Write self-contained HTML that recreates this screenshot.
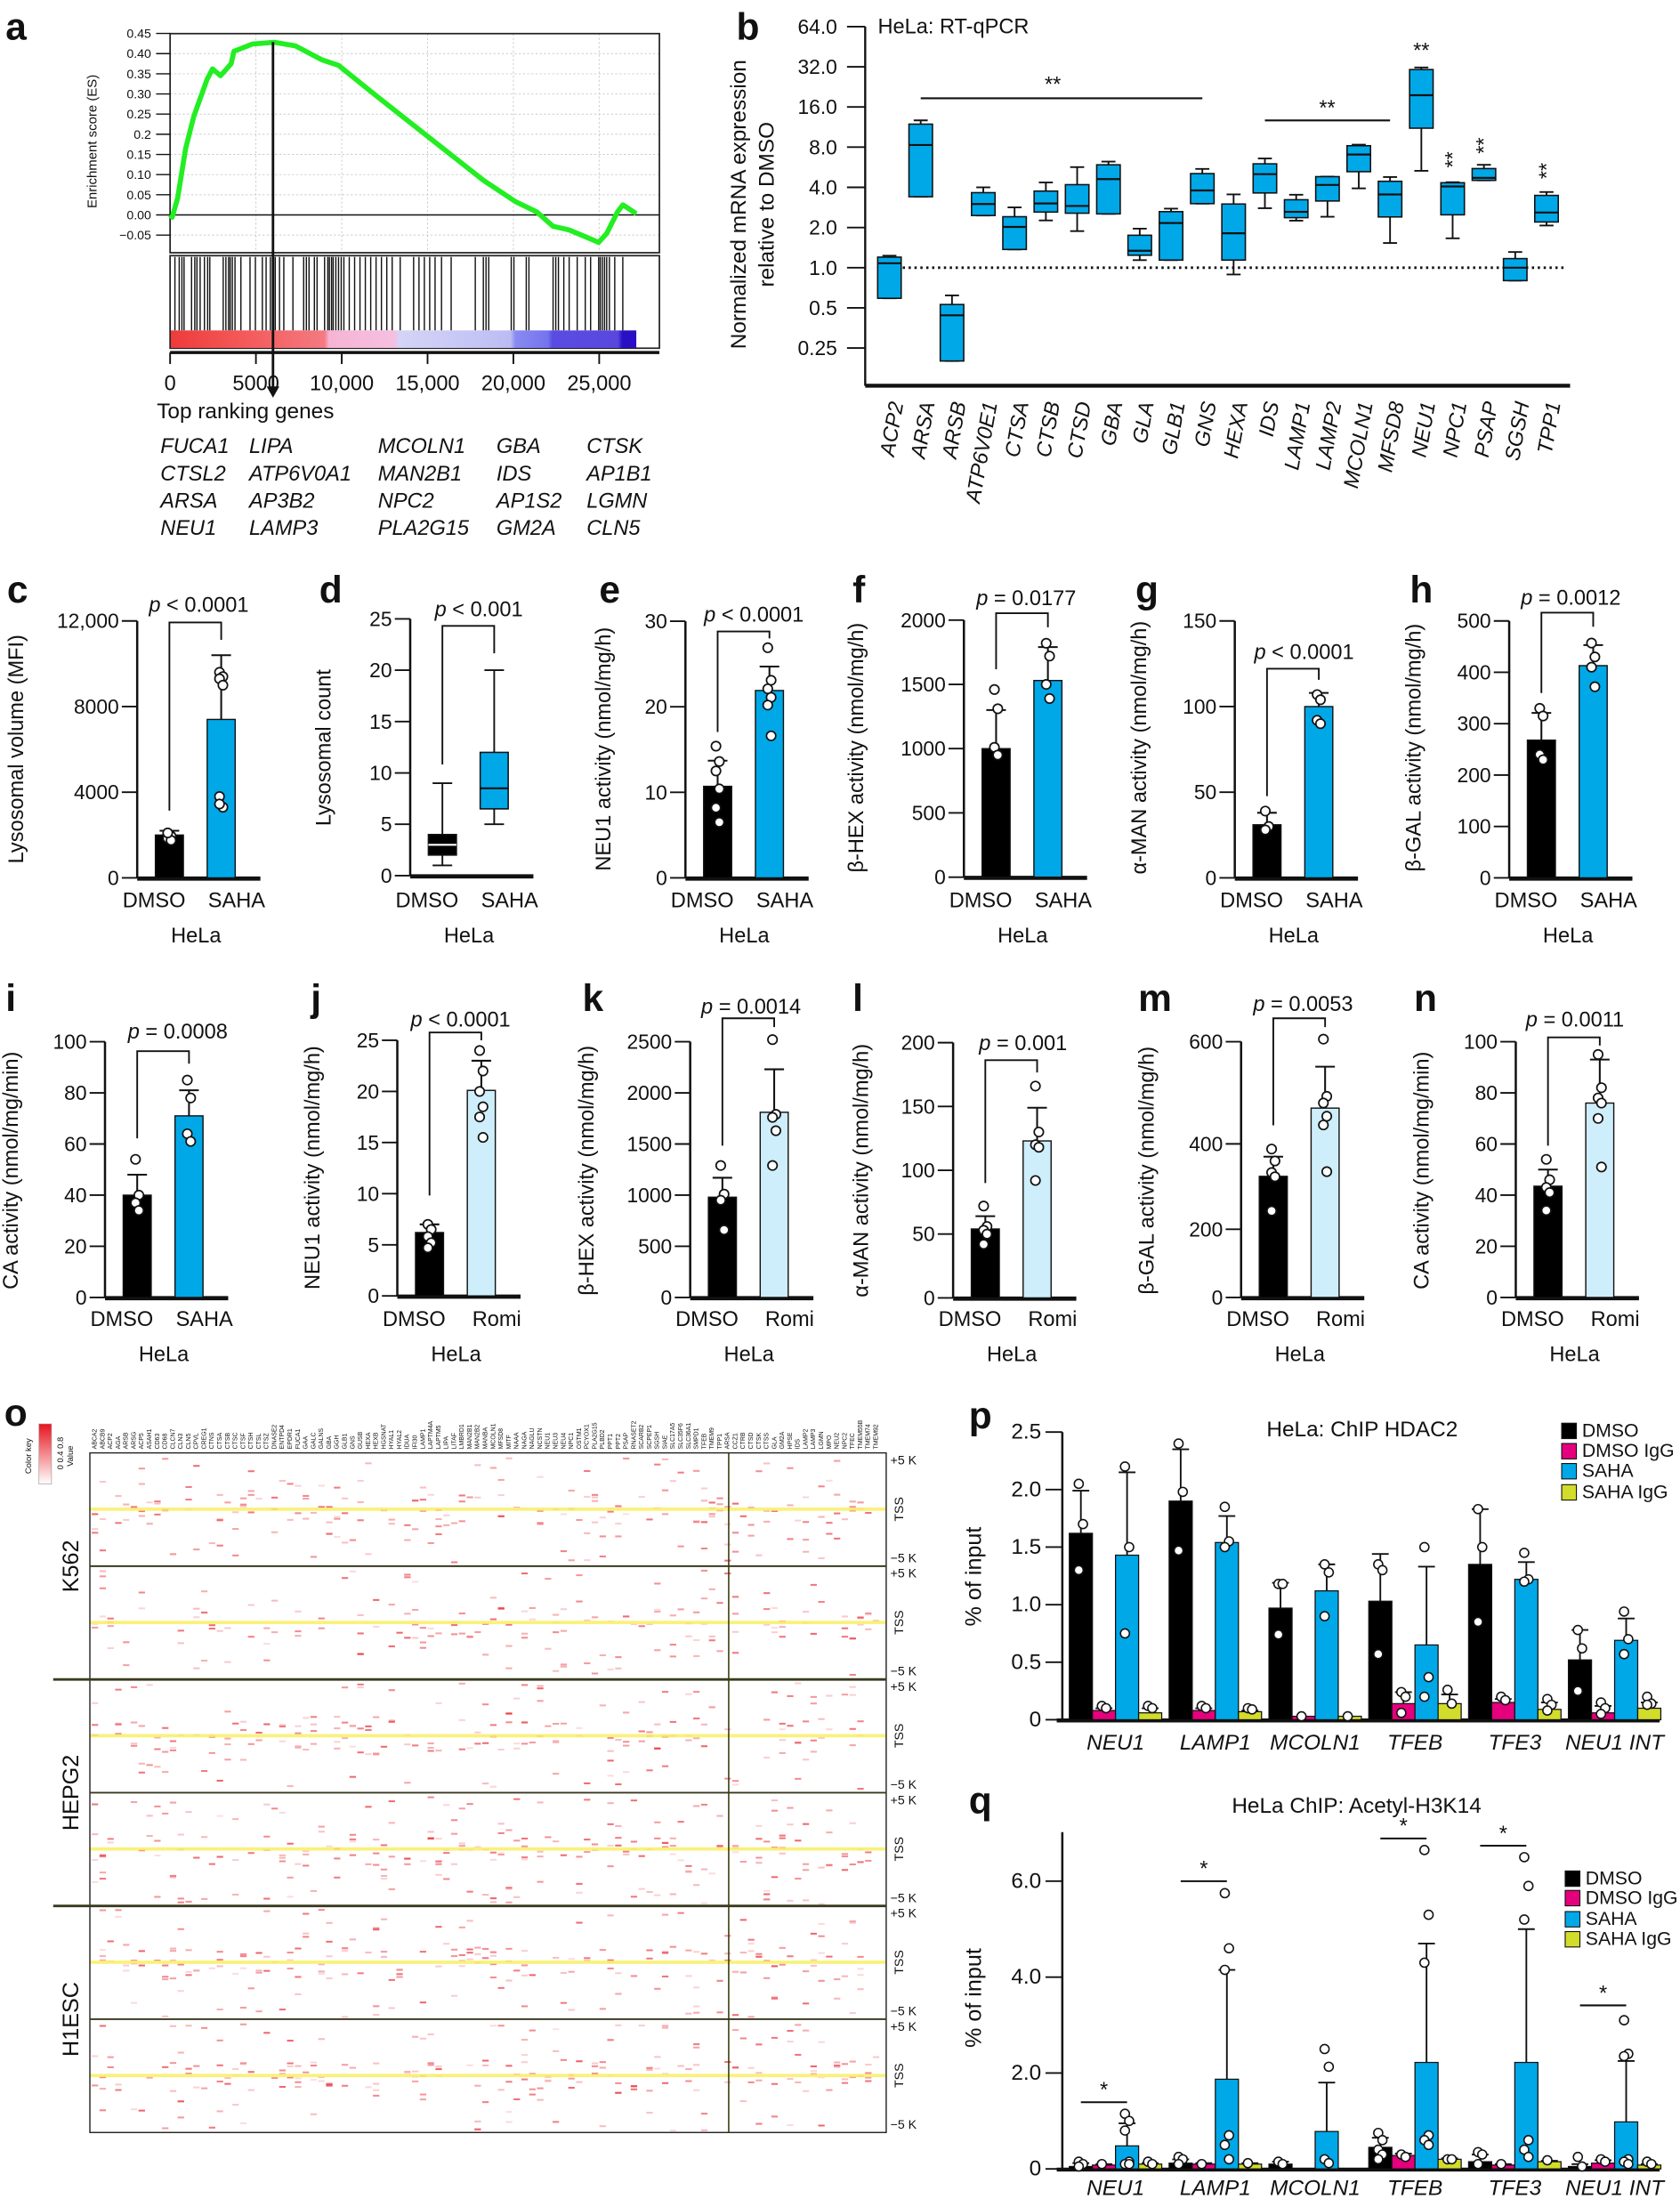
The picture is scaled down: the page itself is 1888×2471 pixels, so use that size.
<!DOCTYPE html>
<html><head><meta charset="utf-8">
<style>
html,body{margin:0;padding:0;background:#fff}
svg{display:block}
text{font-family:"Liberation Sans",Arial,sans-serif;fill:#111}
</style></head>
<body>
<svg id="fig" xmlns="http://www.w3.org/2000/svg" width="1888" height="2471" viewBox="0 0 1200 1570.6" preserveAspectRatio="none">
<defs>
<linearGradient id="rankbar" x1="0" x2="1" y1="0" y2="0">
<stop offset="0" stop-color="#ee3b3b"/><stop offset="0.15" stop-color="#f45858"/><stop offset="0.33" stop-color="#f47a82"/>
<stop offset="0.34" stop-color="#f6b4d4"/><stop offset="0.48" stop-color="#f6bfe0"/><stop offset="0.49" stop-color="#d4d4f6"/>
<stop offset="0.62" stop-color="#c8c8f6"/><stop offset="0.73" stop-color="#bcbcf4"/><stop offset="0.74" stop-color="#8a8af2"/>
<stop offset="0.81" stop-color="#7474ee"/><stop offset="0.82" stop-color="#5a4ce2"/><stop offset="0.96" stop-color="#5a48de"/>
<stop offset="0.97" stop-color="#2a10c4"/><stop offset="1" stop-color="#2a10c4"/>
</linearGradient>
<linearGradient id="ckey" x1="0" x2="0" y1="1" y2="0">
<stop offset="0" stop-color="#ffffff"/><stop offset="1" stop-color="#e8141e"/>
</linearGradient>
</defs>
</svg>
<script>
// ===================== DATA =====================
const esRanks=[0,125,437,906,1375,2156,2470,2940,3560,3720,4810,6060,7310,8875,9810,12000,15125,18250,20125,21375,22310,23250,24190,24970,25440,26060,26375,27160];
const esValues=[0,-0.006,0.042,0.165,0.244,0.336,0.362,0.345,0.375,0.406,0.424,0.428,0.419,0.384,0.371,0.296,0.191,0.086,0.033,0.007,-0.028,-0.037,-0.054,-0.068,-0.046,0.007,0.025,0.003];
const hitRanks=[281,531,688,813,1250,1438,1563,1750,2000,2188,2313,3094,3250,3406,3500,3625,3781,4125,4656,4969,5375,5594,5844,6125,6375,6625,7156,7781,7938,8094,8406,8563,9000,9188,9281,9406,9500,9656,9813,9969,10125,10438,10750,11063,11375,11688,12000,12313,12625,12938,13406,14188,14500,14813,15125,15438,15813,16375,17781,18250,18406,18563,19875,20031,20750,20906,22313,22469,22625,22938,23250,23719,24188,24500,24969,25063,25188,25313,25438,25594,25906,26375];
const esTicks=[-0.05,0,0.05,0.1,0.15,0.2,0.25,0.3,0.35,0.4,0.45];
const esTickLabels=['\u22120.05','0.00','0.05','0.10','0.15','0.2','0.25','0.30','0.35','0.40','0.45'];
const rankTicks=[0,5000,10000,15000,20000,25000];
const rankTickLabels=['0','5000','10,000','15,000','20,000','25,000'];
const topGenes=[['FUCA1','CTSL2','ARSA','NEU1'],['LIPA','ATP6V0A1','AP3B2','LAMP3'],['MCOLN1','MAN2B1','NPC2','PLA2G15'],['GBA','IDS','AP1S2','GM2A'],['CTSK','AP1B1','LGMN','CLN5']];

const bGenes=['ACP2','ARSA','ARSB','ATP6V0E1','CTSA','CTSB','CTSD','GBA','GLA','GLB1','GNS','HEXA','IDS','LAMP1','LAMP2','MCOLN1','MFSD8','NEU1','NPC1','PSAP','SGSH','TPP1'];
const bHigh=[1.23,12.7,0.62,4.0,2.83,4.35,5.67,6.24,1.96,2.77,5.5,3.54,6.58,3.52,4.81,8.35,4.78,31.6,4.37,5.9,1.31,3.69];
const bQ3=[1.20,11.9,0.53,3.65,2.41,3.75,4.19,5.9,1.75,2.63,5.07,3.0,6.0,3.23,4.81,8.2,4.44,30.5,4.33,5.53,1.17,3.48];
const bMed=[1.08,8.3,0.44,3.0,2.02,3.03,2.9,4.61,1.34,2.16,3.79,1.81,5.02,2.62,4.17,7.05,3.54,19.6,4.06,4.71,1.0,2.59];
const bQ1=[0.59,3.4,0.20,2.46,1.37,2.61,2.56,2.53,1.24,1.14,3.02,1.14,3.63,2.37,3.16,5.24,2.4,11.1,2.49,4.51,0.80,2.2];
const bLow=[0.59,3.4,0.20,2.46,1.37,2.26,1.88,2.53,1.14,1.14,3.02,0.89,2.79,2.25,2.41,3.93,1.53,5.32,1.66,4.51,0.80,2.07];
const bTicks=[0.25,0.5,1,2,4,8,16,32,64];
const bTickLabels=['0.25','0.5','1.0','2.0','4.0','8.0','16.0','32.0','64.0'];

const cMeans=[2000,7400], cErr=[2200,10400], cPts=[[2050,1950,1850,1750,2100],[9600,9400,9300,9000,3800,3300,3450]];
const dBox=[[1,2,3,4,9],[5,6.5,8.5,12,20]];
const eMeans=[10.7,21.9], eErr=[13.7,24.7], ePts=[[15.4,13.6,12.5,10.4,8.2,6.5],[26.9,23.1,22.1,21.1,20.2,16.6]];
const fMeans=[1000,1530], fErr=[1300,1790], fPts=[[1460,1310,1010,950],[1820,1720,1500,1390]];
const gMeans=[31,100], gErr=[38,108], gPts=[[39,30,28],[107,104,92,90]];
const hMeans=[268,413], hErr=[321,453], hPts=[[330,315,240,230],[457,430,410,372]];
const iMeans=[40,71], iErr=[48,81], iPts=[[54,40,37,34],[85,78,64,61]];
const jMeans=[6.2,20.1], jErr=[7,23], jPts=[[7,6.5,5.8,5.2,4.7],[24,22,20,18.5,17.5,15.5]];
const kMeans=[980,1810], kErr=[1170,2230], kPts=[[1290,1010,950,660],[2520,1790,1760,1630,1290]];
const lMeans=[54,123], lErr=[64,149], lPts=[[72,56,53,50,42],[166,130,120,118,92]];
const mMeans=[324,470], mErr=[370,551], mPts=[[388,360,333,323,243],[605,493,480,454,437,335]];
const nMeans=[43.5,76], nErr=[50,93], nPts=[[54,46,43,41,34],[95,82,78,76,70,51]];

const chipGenes=['NEU1','LAMP1','MCOLN1','TFEB','TFE3','NEU1 INT'];
const seriesNames=['DMSO','DMSO IgG','SAHA','SAHA IgG'];
const pDMSO=[1.62,1.9,0.97,1.03,1.35,0.52], pDMSOErr=[1.99,2.35,1.19,1.44,1.83,0.78];
const pDMSOIgG=[0.08,0.08,0.03,0.14,0.15,0.06], pDMSOIgGErr=[0.10,0.10,0.03,0.24,0.18,0.12];
const pSAHA=[1.43,1.54,1.12,0.65,1.22,0.69], pSAHAErr=[2.15,1.77,1.35,1.33,1.37,0.88];
const pSAHAIgG=[0.06,0.07,0.03,0.14,0.09,0.10], pSAHAIgGErr=[0.10,0.08,0.03,0.22,0.15,0.15];
const pDMSOPts=[[2.05,1.7,1.3],[2.4,1.98,1.47],[1.18,1.18,0.74],[1.35,1.3,0.57],[1.83,1.5,0.85],[0.78,0.62,0.25]];
const pDMSOIgGPts=[[0.12,0.1],[0.12,0.1],[0.03],[0.24,0.2,0.06],[0.2,0.17],[0.15,0.1,0.05]];
const pSAHAPts=[[2.2,1.5,0.75],[1.85,1.55,1.5],[1.35,1.28,0.9],[1.5,0.37,0.2],[1.45,1.22,1.2],[0.94,0.7,0.57]];
const pSAHAIgGPts=[[0.12,0.1],[0.1,0.09],[0.03],[0.26,0.14],[0.18,0.13,0.08],[0.2,0.14,0.13]];
const pTicks=[0,0.5,1,1.5,2,2.5], pTickLabels=['0','0.5','1.0','1.5','2.0','2.5'];

const qDMSO=[0.05,0.12,0.1,0.45,0.15,0.05], qDMSOErr=[0.12,0.2,0.15,0.65,0.3,0.1];
const qDMSOIgG=[0.08,0.1,0,0.28,0.08,0.12], qDMSOIgGErr=[0.1,0.12,0,0.32,0.1,0.18];
const qSAHA=[0.48,1.87,0.78,2.22,2.22,0.98], qSAHAErr=[0.95,4.15,1.8,4.7,5.0,2.25];
const qSAHAIgG=[0.1,0.1,0,0.2,0.15,0.08], qSAHAIgGErr=[0.12,0.12,0,0.22,0.17,0.1];
const qDMSOPts=[[0.15,0.1,0.05],[0.25,0.2,0.1],[0.15,0.1],[0.75,0.6,0.4,0.3,0.2],[0.35,0.3,0.1],[0.25,0.05]];
const qDMSOIgGPts=[[0.1],[0.1],[],[0.3,0.25],[0.1],[0.2,0.15]];
const qSAHAPts=[[1.15,1.0,0.8,0.15,0.1,0.1],[5.75,4.6,4.15,0.7,0.5,0.2],[2.5,2.13,0.2,0.12],[6.65,5.3,4.3,0.7,0.6,0.5],[6.5,5.9,5.2,0.6,0.4,0.25],[3.1,2.4,2.35,0.2,0.15,0.1]];
const qSAHAIgGPts=[[0.15,0.1],[0.12],[],[0.2,0.2],[0.18],[0.15,0.1]];
const qSig=[1.39,6.0,null,6.89,6.74,3.41];
const qTicks=[0,2,4,6], qTickLabels=['0','2.0','4.0','6.0'];

const oGenes=['ABCA2','ABCB9','ACP2','AGA','ARSB','ARSG','ACP5','ASAH1','CD63','CD68','CLCN7','CLN3','CLN5','CPVL','CREG1','CTNS','CTSA','CTSB','CTSC','CTSF','CTSH','CTSL','CTSZ','DNASE2','ENTPD4','EPDR1','FUCA1','GAA','GALC','GALNS','GBA','GGH','GLB1','GNS','GUSB','HEXA','HEXB','HGSNAT','HYAL1','HYAL2','IDUA','IFI30','LAMP1','LAPTM4A','LAPTM5','LIPA','LITAF','LMBRD1','MAN2B1','MAN2B2','MANBA','MCOLN1','MFSD8','MITF','NAAA','NAGA','NAGLU','NCSTN','NEU1','NEU3','NEU4','NPC1','OSTM1','PCYOX1','PLA2G15','PLBD2','PPT1','PPT2','PSAP','RNASET2','SCARB2','SCPEP1','SGSH','SIAE','SLC17A5','SLC35F6','SLC36A1','SMPD1','TFEB','TMEM9','TPP1','ARSA','CCZ1','CTRB','CTSD','CTSK','CTSS','GLA','GM2A','HPSE','IDS','LAMP2','LAMP3','LGMN','MPO','NEU2','NPC2','TFEC','TMEM55B','TMEM74','TMEM92'];
const oCellLines=['K562','HEPG2','H1ESC'];

// ===================== HELPERS =====================
const NS='http://www.w3.org/2000/svg';
const svg=document.getElementById('fig');
function mk(tag,attrs,parent,name,inter){
  const e=document.createElementNS(NS,tag);
  for(const k in attrs) e.setAttribute(k,attrs[k]);
  
  
  (parent||svg).appendChild(e);
  return e;
}
function txt(s,x,y,attrs,parent,name){
  const t=mk('text',Object.assign({x:x,y:y,'dominant-baseline':'central'},attrs||{}),parent,name,false);
  t.textContent=s; return t;
}
function line(x1,y1,x2,y2,attrs,parent,name){
  return mk('line',Object.assign({x1:x1,y1:y1,x2:x2,y2:y2,stroke:'#111','stroke-width':1.2},attrs||{}),parent,name,false);
}
function ptext(s,x,y,parent,name){
  const t=mk('text',{x:x,y:y,'text-anchor':'middle','dominant-baseline':'central','font-size':15},parent,name,false);
  const a=document.createElementNS(NS,'tspan'); a.setAttribute('font-style','italic'); a.textContent='p';
  const b=document.createElementNS(NS,'tspan'); b.textContent=s;
  t.appendChild(a); t.appendChild(b); return t;
}
function rotText(s,x,y,size,parent,name,attrs){
  return txt(s,x,y,Object.assign({'text-anchor':'middle','font-size':size,transform:'rotate(-90 '+x+' '+y+')'},attrs||{}),parent,name);
}
function letter(s,x,y,size){
  return txt(s,x,y,{'font-size':size||27,'font-weight':'bold'},svg,'panel-label-'+s);
}

// ===================== PANEL A =====================
(function(){
  const g=mk('g',{},svg,'gsea-panel',false);
  letter('a',4,19);
  const X0=121.5, XW=61.3/5000, Y0=153.5, YS=14.4/0.05;
  const sx=r=>X0+r*XW, sy=v=>Y0-v*YS;
  const L=121.5,R=471,T=24,B=180.5;
  const grid=mk('g',{},g,'es-grid',false);
  esTicks.forEach(v=>{ if(v!==0) line(L,sy(v),R,sy(v),{stroke:'#ccc','stroke-width':0.6,'stroke-dasharray':'1.5,1.5'},grid,'es-gridline-h'); });
  rankTicks.forEach(r=>{ if(r>0) line(sx(r),T,sx(r),B,{stroke:'#ccc','stroke-width':0.6,'stroke-dasharray':'1.5,1.5'},grid,'es-gridline-v'); });
  line(L,sy(0),R,sy(0),{'stroke-width':1},g,'es-zero-line');
  mk('rect',{x:L,y:T,width:R-L,height:B-T,fill:'none',stroke:'#222','stroke-width':1.1},g,'es-plot-frame',false);
  esTicks.forEach((v,i)=>{
    line(111.5,sy(v),L,sy(v),{'stroke-width':0.9},g,'es-y-tick');
    txt(esTickLabels[i],108,sy(v),{'text-anchor':'end','font-size':9},g,'es-y-tick-label');
  });
  rotText('Enrichment score (ES)',66,101,9.5,g,'es-y-axis-title');
  const d=esRanks.map((r,i)=>(i?'L':'M')+sx(r).toFixed(1)+','+sy(esValues[i]).toFixed(1)).join(' ');
  mk('path',{d:d,fill:'none',stroke:'#22ee22','stroke-width':3.6,'stroke-linejoin':'round'},g,'es-curve',false);
  mk('rect',{x:L,y:182.6,width:R-L,height:66.1,fill:'#fff',stroke:'#222','stroke-width':1.1},g,'hits-frame',false);
  const hits=mk('g',{},g,'gene-hits',false);
  hitRanks.forEach(r=>line(sx(r),183.5,sx(r),236,{'stroke-width':0.9},hits,'gene-hit'));
  mk('rect',{x:L+0.5,y:236,width:454-L,height:12.5,fill:'url(#rankbar)'},g,'ranked-list-metric-bar',false);
  line(L,251.8,R,251.8,{'stroke-width':2.2},g,'rank-x-axis');
  rankTicks.forEach((r,i)=>{
    line(sx(r),251.8,sx(r),260,{'stroke-width':1.2},g,'rank-x-tick');
    txt(rankTickLabels[i],sx(r),273.5,{'text-anchor':'middle','font-size':15},g,'rank-x-tick-label');
  });
  line(195,30,195,281,{'stroke-width':1.8},g,'leading-edge-arrow');
  mk('path',{d:'M190.5,276 L195,284 L199.5,276 Z',fill:'#111'},g,'leading-edge-arrowhead',false);
  txt('Top ranking genes',112,294,{'font-size':15.5},g,'top-ranking-genes-title');
  const cols=[114.6,178,270,354.6,419], rows=[318.5,338,357.5,377];
  topGenes.forEach((col,ci)=>col.forEach((gname,ri)=>txt(gname,cols[ci],rows[ri],{'font-size':15,'font-style':'italic'},g,'top-gene-label')));
})();

// ===================== PANEL B =====================
(function(){
  const g=mk('g',{},svg,'rtqpcr-panel',false);
  letter('b',526,19);
  const AX=618, ybase=248.6, per=28.7;
  const sy=v=>ybase-(Math.log2(v)+2)*per;
  const cx=i=>635.3+i*22.35;
  line(AX,sy(64),AX,275.5,{'stroke-width':1.5},g,'b-y-axis');
  line(AX,275.5,1121.5,275.5,{'stroke-width':2.8},g,'b-x-axis');
  bTicks.forEach((v,i)=>{
    line(605,sy(v),AX,sy(v),{'stroke-width':1.2},g,'b-y-tick');
    txt(bTickLabels[i],598,sy(v),{'text-anchor':'end','font-size':14.5},g,'b-y-tick-label');
  });
  rotText('Normalized mRNA expression',528,146,15.5,g,'b-y-axis-title');
  rotText('relative to DMSO',548,146,15.5,g,'b-y-axis-title-line2');
  txt('HeLa: RT-qPCR',627,18.7,{'font-size':15},g,'b-chart-title');
  line(628,sy(1),1117,sy(1),{'stroke-width':1.8,'stroke-dasharray':'1.6,2.6'},g,'b-reference-line');
  const W=16.8;
  bGenes.forEach((gn,i)=>{
    const x=cx(i), bg=mk('g',{},g,'box-'+gn.toLowerCase(),false);
    line(x,sy(bHigh[i]),x,sy(bQ3[i]),{},bg,'whisker-high');
    line(x,sy(bQ1[i]),x,sy(bLow[i]),{},bg,'whisker-low');
    line(x-5,sy(bHigh[i]),x+5,sy(bHigh[i]),{},bg,'whisker-cap-high');
    line(x-5,sy(bLow[i]),x+5,sy(bLow[i]),{},bg,'whisker-cap-low');
    mk('rect',{x:x-W/2,y:sy(bQ3[i]),width:W,height:sy(bQ1[i])-sy(bQ3[i]),fill:'#00a8e8',stroke:'#111','stroke-width':1},bg,'box-iqr',false);
    line(x-W/2,sy(bMed[i]),x+W/2,sy(bMed[i]),{'stroke-width':1.4},bg,'box-median');
    txt(gn,x+5,287,{'text-anchor':'end','font-size':15,'font-style':'italic',transform:'rotate(-80 '+(x+5)+' 287)'},g,'b-x-label');
  });
  line(cx(1),70.2,cx(10),70.2,{'stroke-width':1.4},g,'sig-line-1');
  txt('**',752,60,{'text-anchor':'middle','font-size':15},g,'sig-stars-1');
  line(cx(12),86,cx(16),86,{'stroke-width':1.4},g,'sig-line-2');
  txt('**',948,77,{'text-anchor':'middle','font-size':15},g,'sig-stars-2');
  txt('**',cx(17),36,{'text-anchor':'middle','font-size':15},g,'sig-stars-neu1');
  const vy={18:114,19:104,21:122};
  [18,19,21].forEach(i=>txt('**',cx(i),vy[i],{'text-anchor':'middle','font-size':15,transform:'rotate(-90 '+cx(i)+' '+vy[i]+')'},g,'sig-stars-'+bGenes[i].toLowerCase()));
})();

// ===================== BAR PANELS c-n =====================
const BLUE='#00a8e8', LIGHT='#cdeefa';
function barPanel(P){
  const g=mk('g',{},svg,P.name,false);
  letter(P.letter,P.lx,P.ly);
  const tp=P.tickPix||P.ticks.map(v=>P.y0-(v/P.ticks[P.ticks.length-1])*(P.y0-P.yTop));
  const sy=v=>{
    for(let i=0;i<P.ticks.length-1;i++){
      if(v<=P.ticks[i+1]||i===P.ticks.length-2){
        const t=(v-P.ticks[i])/(P.ticks[i+1]-P.ticks[i]);
        return tp[i]+t*(tp[i+1]-tp[i]);
      }
    }
  };
  const ax=P.ax;
  line(ax,P.y0,ax,tp[tp.length-1],{'stroke-width':1.6},g,'y-axis');
  line(ax,P.y0+0.5,ax+88,P.y0+0.5,{'stroke-width':3},g,'x-axis');
  P.ticks.forEach((v,i)=>{
    line(ax-11,tp[i],ax,tp[i],{'stroke-width':1.2},g,'y-tick');
    txt(P.tickLabels[i],ax-13,tp[i],{'text-anchor':'end','font-size':14.5},g,'y-tick-label');
  });
  const offs=[23,60], lab=[12,71];
  for(let k=0;k<2;k++){
    const cx=ax+offs[k];
    if(P.box){
      const b=P.box[k], bg=mk('g',{},g,'box-'+P.cats[k].toLowerCase(),false);
      line(cx,sy(b[4]),cx,sy(b[0]),{},bg,'whisker');
      line(cx-7,sy(b[4]),cx+7,sy(b[4]),{},bg,'whisker-cap-high');
      line(cx-7,sy(b[0]),cx+7,sy(b[0]),{},bg,'whisker-cap-low');
      mk('rect',{x:cx-10,y:sy(b[3]),width:20,height:sy(b[1])-sy(b[3]),fill:P.colors[k],stroke:'#111','stroke-width':1},bg,'box-iqr',false);
      line(cx-10,sy(b[2]),cx+10,sy(b[2]),{stroke:k===0?'#fff':'#111','stroke-width':1.3},bg,'box-median');
    } else {
      mk('rect',{x:cx-10,y:sy(P.means[k]),width:20,height:P.y0-sy(P.means[k]),fill:P.colors[k],stroke:'#111','stroke-width':0.9},g,'bar-'+P.cats[k].toLowerCase(),false);
      line(cx,sy(P.means[k]),cx,sy(P.errs[k]),{'stroke-width':1.3},g,'error-bar');
      line(cx-7,sy(P.errs[k]),cx+7,sy(P.errs[k]),{'stroke-width':1.3},g,'error-cap');
      P.pts[k].forEach((v,j)=>mk('circle',{cx:cx+((j%2)?1.2:-1.2),cy:sy(v),r:3.3,fill:'#fff',stroke:'#111','stroke-width':1.1},g,'replicate-point',false));
    }
    txt(P.cats[k],ax+lab[k],P.catY,{'text-anchor':'middle','font-size':15},g,'x-category-label');
  }
  txt('HeLa',ax+42,P.catY+25,{'text-anchor':'middle','font-size':15},g,'cell-line-label');
  const x1=ax+offs[0], x2=ax+offs[1], B=P.br;
  mk('path',{d:'M'+x1+','+B[1]+' L'+x1+','+B[0]+' L'+x2+','+B[0]+' L'+x2+','+B[2],fill:'none',stroke:'#111','stroke-width':1.2},g,'significance-bracket',false);
  ptext(P.p,P.px,P.py,g,'p-value');
  rotText(P.title,P.tx,P.ty,15,g,'y-axis-title');
}
barPanel({name:'lysosomal-volume-panel',letter:'c',lx:5,ly:421,ax:98,y0:627,yTop:443.5,catY:643,ticks:[0,4000,8000,12000],tickLabels:['0','4000','8000','12,000'],means:cMeans,errs:cErr,pts:cPts,cats:['DMSO','SAHA'],colors:['#000',BLUE],br:[444.6,579,457],p:' < 0.0001',px:142,py:432,title:'Lysosomal volume (MFI)',tx:11.5,ty:535});
barPanel({name:'lysosomal-count-panel',letter:'d',lx:228,ly:421,ax:293,y0:625.4,yTop:442,catY:643,ticks:[0,5,10,15,20,25],tickLabels:['0','5','10','15','20','25'],box:dBox,cats:['DMSO','SAHA'],colors:['#000',BLUE],br:[447,546,466.6],p:' < 0.001',px:342,py:435,title:'Lysosomal count',tx:231,ty:534});
barPanel({name:'neu1-activity-saha-panel',letter:'e',lx:428,ly:421,ax:489.6,y0:627,yTop:443.7,catY:643,ticks:[0,10,20,30],tickLabels:['0','10','20','30'],means:eMeans,errs:eErr,pts:ePts,cats:['DMSO','SAHA'],colors:['#000',BLUE],br:[451,522.8,456],p:' < 0.0001',px:538.5,py:439,title:'NEU1 activity (nmol/mg/h)',tx:430.8,ty:535});
barPanel({name:'bhex-activity-saha-panel',letter:'f',lx:609,ly:421,ax:688.5,y0:626.5,yTop:442.9,catY:643,ticks:[0,500,1000,1500,2000],tickLabels:['0','500','1000','1500','2000'],means:fMeans,errs:fErr,pts:fPts,cats:['DMSO','SAHA'],colors:['#000',BLUE],br:[438,478,448],p:' = 0.0177',px:733,py:427,title:'\u03b2-HEX activity (nmol/mg/h)',tx:611.5,ty:534});
barPanel({name:'aman-activity-saha-panel',letter:'g',lx:811,ly:421,ax:882,y0:627,yTop:443.5,catY:643,ticks:[0,50,100,150],tickLabels:['0','50','100','150'],means:gMeans,errs:gErr,pts:gPts,cats:['DMSO','SAHA'],colors:['#000',BLUE],br:[477.6,568.6,485.5],p:' < 0.0001',px:931.5,py:465.6,title:'\u03b1-MAN activity (nmol/mg/h)',tx:813.5,ty:534});
barPanel({name:'bgal-activity-saha-panel',letter:'h',lx:1007,ly:421,ax:1078,y0:627,yTop:443.5,catY:643,ticks:[0,100,200,300,400,500],tickLabels:['0','100','200','300','400','500'],means:hMeans,errs:hErr,pts:hPts,cats:['DMSO','SAHA'],colors:['#000',BLUE],br:[437.6,495,447.6],p:' = 0.0012',px:1122,py:426.7,title:'\u03b2-GAL activity (nmol/mg/h)',tx:1009.6,ty:534});
barPanel({name:'ca-activity-saha-panel',letter:'i',lx:4,ly:713,ax:75,y0:926.7,yTop:744,catY:942,ticks:[0,20,40,60,80,100],tickLabels:['0','20','40','60','80','100'],means:iMeans,errs:iErr,pts:iPts,cats:['DMSO','SAHA'],colors:['#000',BLUE],br:[750.8,813,759.7],p:' = 0.0008',px:127,py:736.7,title:'CA activity (nmol/mg/min)',tx:7.7,ty:836});
barPanel({name:'neu1-activity-romi-panel',letter:'j',lx:222,ly:713,ax:283.8,y0:925.6,yTop:743,catY:942,ticks:[0,5,10,15,20,25],tickLabels:['0','5','10','15','20','25'],means:jMeans,errs:jErr,pts:jPts,cats:['DMSO','Romi'],colors:['#000',LIGHT],br:[737.4,853.9,743],p:' < 0.0001',px:329,py:728,title:'NEU1 activity (nmol/mg/h)',tx:223,ty:834});
barPanel({name:'bhex-activity-romi-panel',letter:'k',lx:416,ly:713,ax:493,y0:926.7,yTop:744,catY:942,ticks:[0,500,1000,1500,2000,2500],tickLabels:['0','500','1000','1500','2000','2500'],means:kMeans,errs:kErr,pts:kPts,cats:['DMSO','Romi'],colors:['#000',LIGHT],br:[727.3,818.3,733.6],p:' = 0.0014',px:536.5,py:719,title:'\u03b2-HEX activity (nmol/mg/h)',tx:419,ty:836});
barPanel({name:'aman-activity-romi-panel',letter:'l',lx:609,ly:713,ax:680.8,y0:927,yTop:744.7,catY:942,ticks:[0,50,100,150,200],tickLabels:['0','50','100','150','200'],means:lMeans,errs:lErr,pts:lPts,cats:['DMSO','Romi'],colors:['#000',LIGHT],br:[757.2,845,766],p:' = 0.001',px:730.8,py:745,title:'\u03b1-MAN activity (nmol/mg/h)',tx:615,ty:836});
barPanel({name:'bgal-activity-romi-panel',letter:'m',lx:813,ly:713,ax:886.5,y0:926.7,yTop:744,tickPix:[926.7,878,817,744],catY:942,ticks:[0,200,400,600],tickLabels:['0','200','400','600'],means:mMeans,errs:mErr,pts:mPts,cats:['DMSO','Romi'],colors:['#000',LIGHT],br:[727.3,803.7,733.6],p:' = 0.0053',px:930.8,py:717,title:'\u03b2-GAL activity (nmol/mg/h)',tx:819,ty:836});
barPanel({name:'ca-activity-romi-panel',letter:'n',lx:1010,ly:713,ax:1082.7,y0:926.7,yTop:744,catY:942,ticks:[0,20,40,60,80,100],tickLabels:['0','20','40','60','80','100'],means:nMeans,errs:nErr,pts:nPts,cats:['DMSO','Romi'],colors:['#000',LIGHT],br:[740.9,818.3,746.8],p:' = 0.0011',px:1125,py:728,title:'CA activity (nmol/mg/min)',tx:1015.4,ty:836});

// ===================== GROUPED CHIP PANELS =====================
const SCOL=['#000','#e5007d','#00a8e8','#d2dc2a'];
function chipPanel(Q){
  const g=mk('g',{},svg,Q.name,false);
  letter(Q.letter,Q.lx,Q.ly);
  const ax=758.8, sy=v=>Q.y0-v*Q.per;
  line(ax,Q.y0,ax,Q.axTop,{'stroke-width':1.6},g,'y-axis');
  line(ax-4,Q.y0+0.5,1185.5,Q.y0+0.5,{'stroke-width':2.8},g,'x-axis');
  Q.ticks.forEach((v,i)=>{
    line(ax-12,sy(v),ax,sy(v),{'stroke-width':1.2},g,'y-tick');
    txt(Q.tickLabels[i],ax-15,sy(v),{'text-anchor':'end','font-size':15.5},g,'y-tick-label');
  });
  rotText('% of input',695.7,Q.tyc,16,g,'y-axis-title');
  txt(Q.title,Q.titleX,Q.titleY,{'text-anchor':'middle','font-size':15.5},g,'chart-title');
  const BW=16.5, GS=71.3;
  chipGenes.forEach((gn,gi)=>{
    const gx=763.8+gi*GS, gg=mk('g',{},g,'group-'+gn.toLowerCase().replace(' ','-'),false);
    for(let s=0;s<4;s++){
      const m=Q.means[s][gi], e=Q.errs[s][gi], x=gx+s*BW, cx=x+BW/2;
      if(m>0) mk('rect',{x:x,y:sy(m),width:BW,height:Q.y0-sy(m),fill:SCOL[s],stroke:'#111','stroke-width':0.8},gg,'bar-'+seriesNames[s].toLowerCase().replace(' ','-'),false);
      if(e>m){
        line(cx,sy(m),cx,sy(e),{'stroke-width':1.2},gg,'error-bar');
        line(cx-6,sy(e),cx+6,sy(e),{'stroke-width':1.2},gg,'error-cap');
      }
      Q.pts[s][gi].forEach((v,j)=>mk('circle',{cx:cx+((j%2)?1.5:-1.5),cy:sy(v),r:3.2,fill:'#fff',stroke:'#111','stroke-width':1},gg,'replicate-point',false));
    }
    txt(gn,gx+33,Q.labY,{'text-anchor':'middle','font-size':15.5,'font-style':'italic'},g,'x-group-label');
    if(Q.sig&&Q.sig[gi]!=null){
      line(gx+BW/2,sy(Q.sig[gi]),gx+2.5*BW,sy(Q.sig[gi]),{'stroke-width':1.3},g,'sig-line');
      txt('*',gx+1.5*BW,sy(Q.sig[gi])-9,{'text-anchor':'middle','font-size':15},g,'sig-star');
    }
  });
  const lg=mk('g',{},g,'legend',false);
  seriesNames.forEach((s,i)=>{
    const y=Q.legY[i];
    mk('rect',{x:Q.legX,y:y-5.5,width:10.5,height:11,fill:SCOL[i],stroke:'#111','stroke-width':0.7},lg,'legend-swatch',false);
    txt(s,Q.legX+14.5,y,{'font-size':13.5},lg,'legend-entry');
  });
}
chipPanel({name:'chip-hdac2-panel',letter:'p',lx:692,ly:1011,y0:1228.3,per:82.2,axTop:1022.9,ticks:pTicks,tickLabels:pTickLabels,tyc:1126,title:'HeLa: ChIP HDAC2',titleX:973,titleY:1021,
  means:[pDMSO,pDMSOIgG,pSAHA,pSAHAIgG],errs:[pDMSOErr,pDMSOIgGErr,pSAHAErr,pSAHAIgGErr],pts:[pDMSOPts,pDMSOIgGPts,pSAHAPts,pSAHAIgGPts],labY:1245,legX:1115.5,legY:[1022,1036.5,1050.8,1065.9]});
chipPanel({name:'chip-acetyl-h3k14-panel',letter:'q',lx:692,ly:1286,y0:1549.1,per:34.25,axTop:1308.6,ticks:qTicks,tickLabels:qTickLabels,tyc:1427,title:'HeLa ChIP: Acetyl-H3K14',titleX:969,titleY:1290,
  means:[qDMSO,qDMSOIgG,qSAHA,qSAHAIgG],errs:[qDMSOErr,qDMSOIgGErr,qSAHAErr,qSAHAIgGErr],pts:[qDMSOPts,qDMSOIgGPts,qSAHAPts,qSAHAIgGPts],sig:qSig,labY:1563,legX:1118,legY:[1341.8,1355.7,1370.8,1385.1]});

// ===================== PANEL O: HEATMAP =====================
(function(){
  const g=mk('g',{},svg,'tss-heatmap-panel',false);
  letter('o',3,1009);
  const L=64.2,R=633,T=1037.7,H=80.9,VX=520.5;
  const colX=i=>67.5+i*5.58;
  mk('rect',{x:27.8,y:1017,width:9,height:43,fill:'url(#ckey)',stroke:'#999','stroke-width':0.4},g,'color-key-bar',false);
  rotText('Color key',20,1040,6,g,'color-key-title');
  rotText('0   0.4  0.8',43,1038,6,g,'color-key-ticks');
  rotText('Value',50,1040,6,g,'color-key-label');
  oGenes.forEach((gn,i)=>txt(gn,colX(i)+1.5,1035,{'font-size':4.4,'dominant-baseline':'auto',transform:'rotate(-90 '+(colX(i)+1.5)+' 1035)'},g,'heatmap-gene-label'));
  // decorative texture: seeded pseudo-random ChIP signal marks
  let seed=12345; const rnd=()=>{seed=(seed*1103515245+12345)%2147483648; return seed/2147483648;};
  const marks=mk('g',{},g,'heatmap-signal-marks',false);
  for(let s=0;s<6;s++){
    const top=T+s*H, tss=top+40.2;
    for(let c=0;c<oGenes.length;c++){
      const n=Math.floor(rnd()*5);
      for(let k=0;k<n;k++){
        const near=rnd()<0.45;
        const y=near? tss+(rnd()-0.5)*22 : top+2+rnd()*(H-4);
        const a=0.15+rnd()*0.6;
        mk('rect',{x:colX(c)-2,y:y,width:4.6,height:1.3,fill:'#e8323a','fill-opacity':a.toFixed(2)},marks,'signal-mark',false);
      }
    }
    mk('rect',{x:L,y:tss-1.2,width:R-L,height:2.4,fill:'#f8ee66','fill-opacity':0.85},g,'tss-line',false);
  }
  mk('rect',{x:L,y:T,width:R-L,height:6*H,fill:'none',stroke:'#222','stroke-width':0.9},g,'heatmap-frame',false);
  for(let s=1;s<6;s++){
    const y=T+s*H, thick=(s%2===0);
    line(thick?38:L,y,R,y,{stroke:'#3a3a20','stroke-width':thick?1.8:1.2},g,'subpanel-separator');
  }
  line(VX,T,VX,T+6*H,{stroke:'#3a3a10','stroke-width':1},g,'gene-set-divider');
  for(let s=0;s<6;s++){
    const top=T+s*H;
    txt('+5 K',636,top+5,{'font-size':9},g,'plus-5k-label');
    rotText('TSS',642,top+40.2,9,g,'tss-label');
    txt('\u22125 K',636,top+H-6,{'font-size':9},g,'minus-5k-label');
  }
  oCellLines.forEach((c,i)=>rotText(c,51,T+H*(2*i+1),16,g,'cell-line-label-'+c.toLowerCase()));
})();
</script>
</body></html>
